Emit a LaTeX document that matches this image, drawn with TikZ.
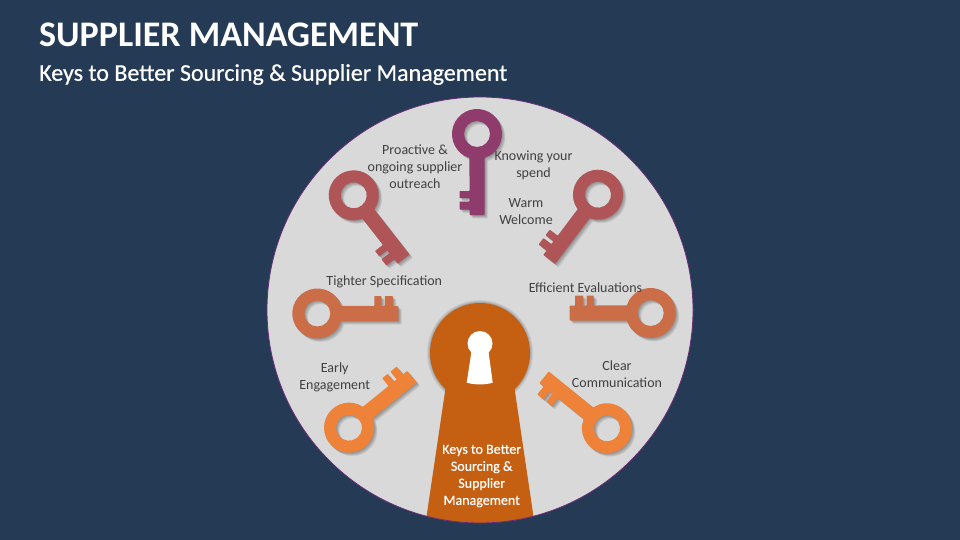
\documentclass[tikz,border=0pt]{standalone}
\usepackage{fontspec}
\setmainfont{Carlito}
\newfontfamily\heavyfont[FakeBold=.6]{Carlito}
\usetikzlibrary{positioning}
\definecolor{slatebg}{HTML}{253A55}
\definecolor{diskgray}{HTML}{D9D9D9}
\definecolor{diskedge}{HTML}{6A2A78}
\definecolor{holeorange}{HTML}{C55F12}
\definecolor{keyplum}{HTML}{8F3C6C}
\definecolor{keyrose}{HTML}{AF5558}
\definecolor{keyrust}{HTML}{CB6E47}
\definecolor{keyamber}{HTML}{ED8238}
\definecolor{labelgray}{HTML}{404040}
\tikzset{
  key/.pic={
    \fill[even odd rule, rounded corners=.6pt]
      (17.5:25) arc [start angle=17.5,end angle=342.5,radius=25]
      -- (81,-7.5) -- (81,7.5) -- (75.5,7.5) -- (75.5,17.5) -- (67.5,17.5) -- (67.5,7.5)
      -- (64,7.5) -- (64,17.5) -- (57,17.5) -- (57,7.5) -- cycle
      (0,0) circle [radius=13];
  },
  keylabel/.style={font=\fontsize{14}{17}\selectfont, text=labelgray, align=center, inner sep=0pt},
  headline/.style={anchor=west, text=white, inner sep=0pt}
}
\begin{document}
\begin{tikzpicture}[x=1pt,y=-1pt]
    \fill[slatebg] (0,0) rectangle (960,540);
    \useasboundingbox (0,0) rectangle (960,540);

    \node[headline, font=\fontsize{36}{40}\selectfont\bfseries] (title) at (39,35) {SUPPLIER MANAGEMENT};
    \node[headline, font=\fontsize{24}{28}\heavyfont] (subtitle) at (39,74.5) {Keys to Better Sourcing \& Supplier Management};

    \coordinate (center) at (480,310);
    \fill[diskgray] (center) circle [radius=213];

    % keyhole, cut off by the disk
    \begin{scope}
      \clip (center) circle [radius=213];
      \foreach \r in {53,52,51,50.5} {
        \fill[black, opacity=.07] (480,353) circle [radius=\r];
      }
      \fill[holeorange] (480,353) circle [radius=50];
      \fill[holeorange] (446,385) -- (514,385) -- (535.5,530) -- (424.5,530) -- cycle;
    \end{scope}
    \draw[diskedge, line width=.8pt] (center) circle [radius=213];
    \fill[white] (480,343.5) circle [radius=12.5];
    \fill[white] (471.7,350) -- (488.3,350) -- (492.7,382.7)
      .. controls (485,385) and (475,385) .. (466.7,382.7) -- cycle;

    % ring x / ring y / angle / side of the bits / colour
    \foreach \x/\y/\ang/\side/\col in {
      477/134/-90/1/keyplum,
      353.7/195.3/-52/1/keyrose,
      598/194.7/-127/1/keyrose,
      317.3/313.5/0/-1/keyrust,
      650.7/313/180/1/keyrust,
      349/427.7/39/-1/keyamber,
      607/428.3/141/-1/keyamber} {
      \foreach \d in {.5,1,1.5,2,2.5,3,3.5} {
        \pic[rotate=\ang, yscale=\side, fill=black, fill opacity=.05] at (\x+\d,\y+\d) {key};
      }
      \pic[rotate=\ang, yscale=\side, fill=\col] at (\x,\y) {key};
    }

    \node[keylabel] (proactive) at (415,167) {Proactive \&\\ongoing supplier\\outreach};
    \node[keylabel] (knowing) at (533.5,165.5) {Knowing your\\spend};
    \node[keylabel] (warm) at (526,211.5) {Warm\\Welcome};
    \node[keylabel] (tighter) at (384.3,281.5) {Tighter Specification};
    \node[keylabel] (efficient) at (585.5,287.5) {Efficient Evaluations};
    \node[keylabel] (early) at (334.7,377) {Early\\Engagement};
    \node[keylabel] (clear) at (617,374.5) {Clear\\Communication};
    \node[keylabel, text=white, font=\fontsize{14}{17}\heavyfont] (central) at (481.7,476) {Keys to Better\\Sourcing \&\\Supplier\\Management};
\end{tikzpicture}
\end{document}
